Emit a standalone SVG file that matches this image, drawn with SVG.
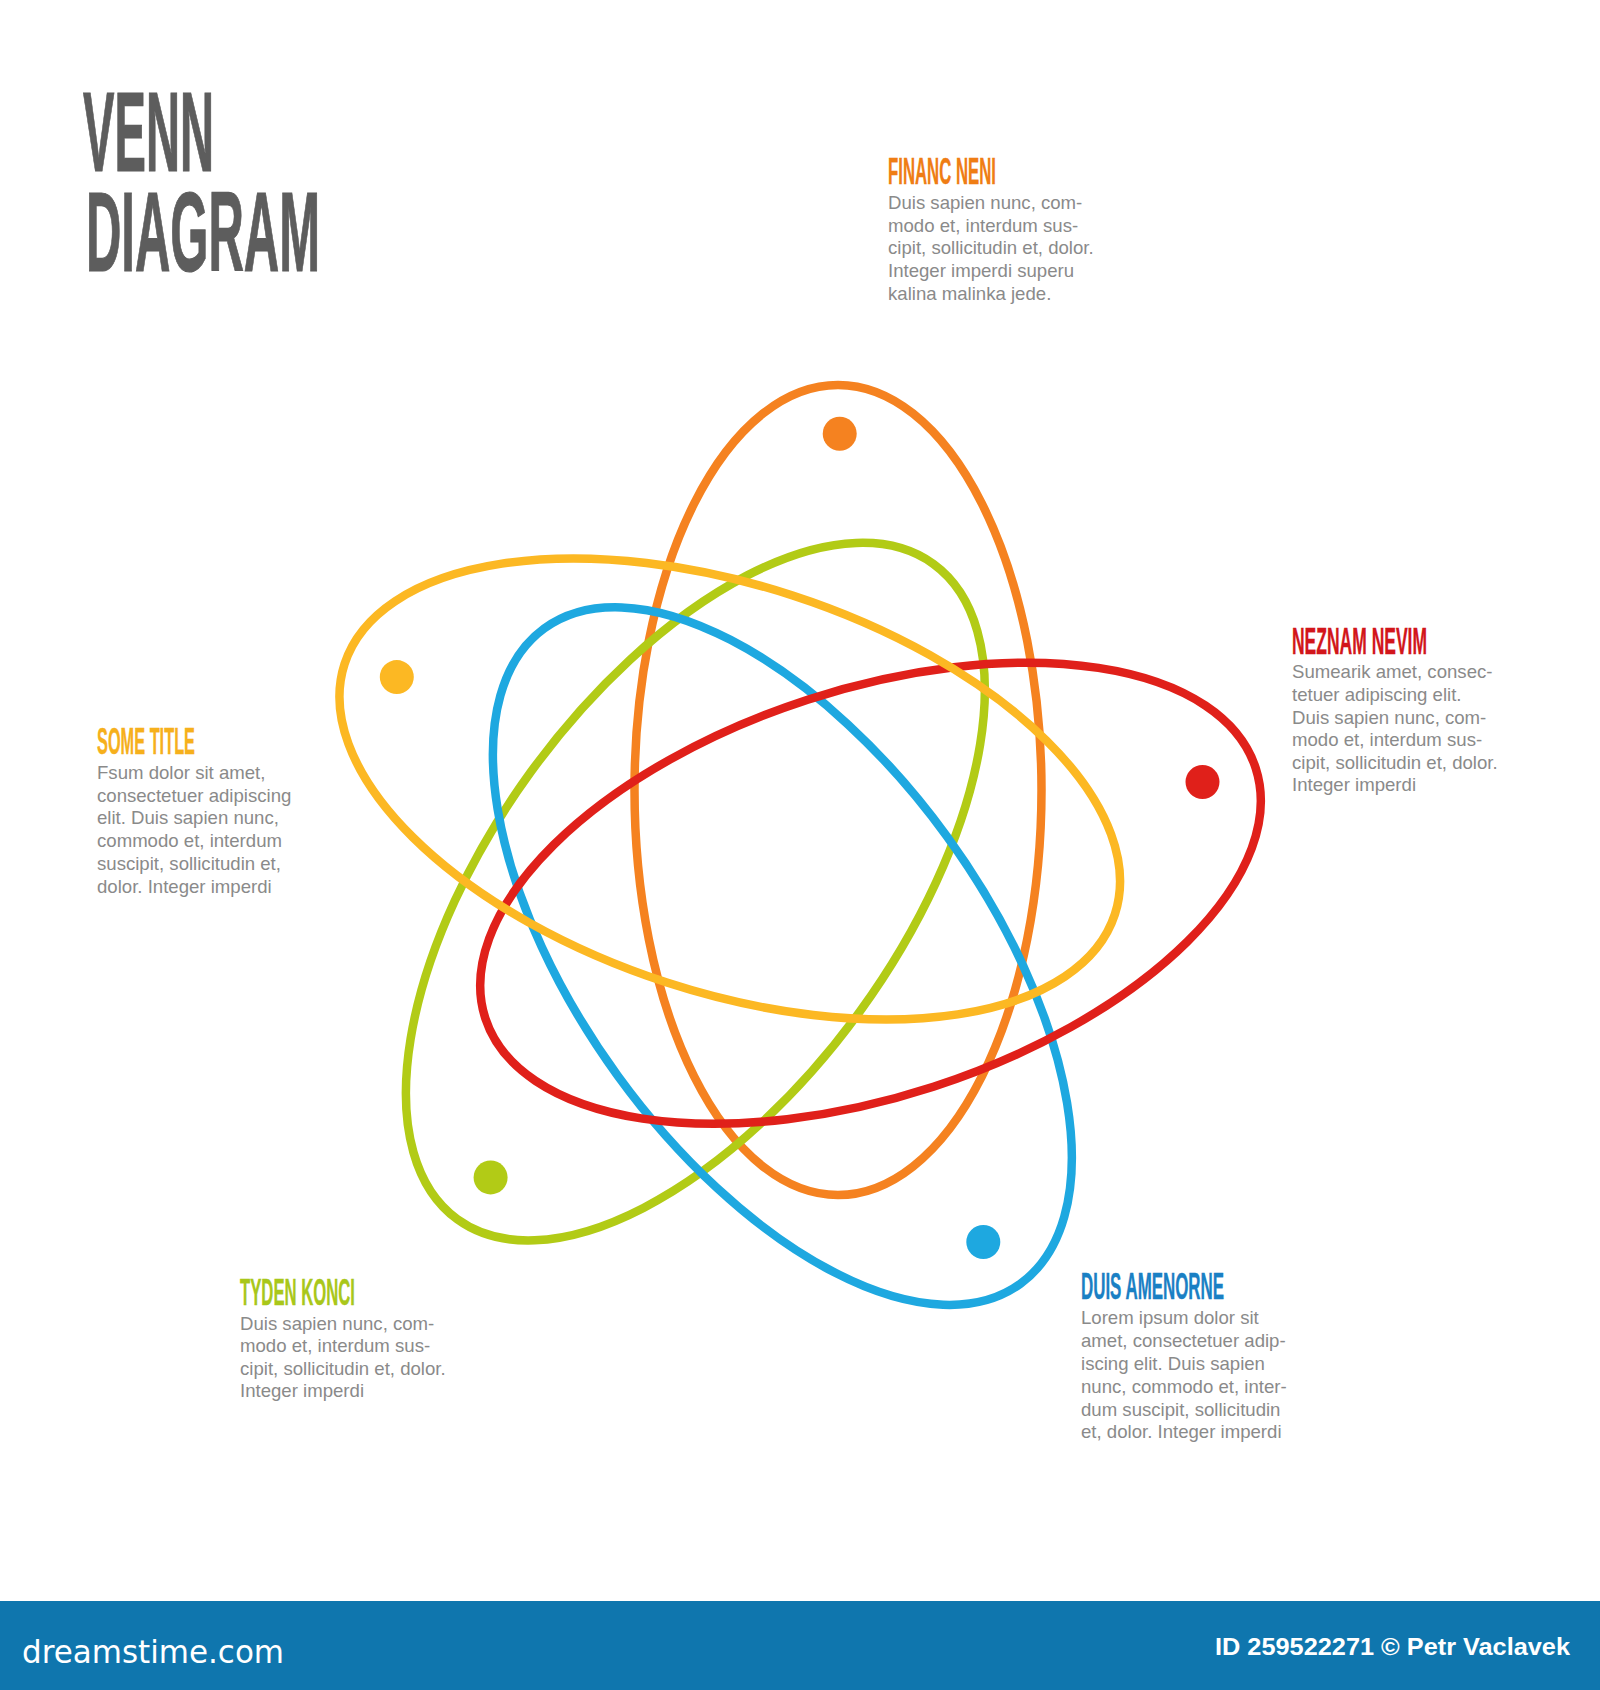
<svg xmlns="http://www.w3.org/2000/svg" width="1600" height="1690" viewBox="0 0 1600 1690">
<style>
.ring{fill:none;stroke-width:8.5}
.title{font-family:"Liberation Sans",Arial,sans-serif;font-weight:bold;fill:#5d5d5d;stroke:#5d5d5d;stroke-width:1.2;font-size:113px}
.head{font-family:"Liberation Sans",Arial,sans-serif;font-weight:bold;font-size:37px;stroke-width:0.4}
.body{font-family:"Liberation Sans",Arial,sans-serif;font-size:18.6px;fill:#8a8a8a}
.foot{font-family:"DejaVu Sans",sans-serif;fill:#ffffff}
</style>
<rect x="0" y="0" width="1600" height="1690" fill="#ffffff"/>

<g id="title">
<text class="title" x="83" y="170.5" textLength="131" lengthAdjust="spacingAndGlyphs">VENN</text>
<text class="title" x="86" y="270.5" textLength="234" lengthAdjust="spacingAndGlyphs">DIAGRAM</text>
</g>

<g id="connectors"></g>

<g id="set-orange">
<ellipse class="ring" cx="838" cy="790" rx="203.5" ry="405" stroke="#f58220"/>
<circle cx="839.7" cy="433.7" r="17" fill="#f58220"/>
</g>
<g id="set-green">
<ellipse class="ring" cx="838" cy="790" rx="203.5" ry="405" stroke="#b2cb16" transform="rotate(216 783.2 864)"/>
<circle cx="490.6" cy="1177.4" r="17" fill="#b2cb16"/>
</g>
<g id="set-blue">
<ellipse class="ring" cx="838" cy="790" rx="203.5" ry="405" stroke="#1ea8e0" transform="rotate(144 783.2 864)"/>
<circle cx="983.3" cy="1242" r="17" fill="#1ea8e0"/>
</g>
<g id="set-red">
<ellipse class="ring" cx="838" cy="790" rx="203.5" ry="405" stroke="#e0201a" transform="rotate(72 783.2 864)"/>
<circle cx="1202.5" cy="782" r="17" fill="#e0201a"/>
</g>
<g id="set-yellow">
<ellipse class="ring" cx="838" cy="790" rx="203.5" ry="405" stroke="#fcb823" transform="rotate(288 783.2 864)"/>
<circle cx="396.8" cy="677.1" r="17" fill="#fcb823"/>
</g>

<g id="label-orange">
<text class="head" x="888" y="184" fill="#ef7d14" stroke="#ef7d14" textLength="108" lengthAdjust="spacingAndGlyphs">FINANC NENI</text>
<text class="body">
<tspan x="888" y="209">Duis sapien nunc, com-</tspan>
<tspan x="888" y="231.7">modo et, interdum sus-</tspan>
<tspan x="888" y="254.4">cipit, sollicitudin et, dolor.</tspan>
<tspan x="888" y="277.1">Integer imperdi superu</tspan>
<tspan x="888" y="299.8">kalina malinka jede.</tspan>
</text>
</g>

<g id="label-red">
<text class="head" x="1292" y="654" fill="#d2161b" stroke="#d2161b" textLength="135" lengthAdjust="spacingAndGlyphs">NEZNAM NEVIM</text>
<text class="body">
<tspan x="1292" y="678.3">Sumearik amet, consec-</tspan>
<tspan x="1292" y="700.9">tetuer adipiscing elit.</tspan>
<tspan x="1292" y="723.5">Duis sapien nunc, com-</tspan>
<tspan x="1292" y="746.1">modo et, interdum sus-</tspan>
<tspan x="1292" y="768.7">cipit, sollicitudin et, dolor.</tspan>
<tspan x="1292" y="791.3">Integer imperdi</tspan>
</text>
</g>

<g id="label-yellow">
<text class="head" x="97" y="754" fill="#f6b01c" stroke="#f6b01c" textLength="98" lengthAdjust="spacingAndGlyphs">SOME TITLE</text>
<text class="body">
<tspan x="97" y="779">Fsum dolor sit amet,</tspan>
<tspan x="97" y="801.7">consectetuer adipiscing</tspan>
<tspan x="97" y="824.4">elit. Duis sapien nunc,</tspan>
<tspan x="97" y="847.1">commodo et, interdum</tspan>
<tspan x="97" y="869.8">suscipit, sollicitudin et,</tspan>
<tspan x="97" y="892.5">dolor. Integer imperdi</tspan>
</text>
</g>

<g id="label-green">
<text class="head" x="240" y="1305" fill="#a9c71a" stroke="#a9c71a" textLength="115" lengthAdjust="spacingAndGlyphs">TYDEN KONCI</text>
<text class="body">
<tspan x="240" y="1329.5">Duis sapien nunc, com-</tspan>
<tspan x="240" y="1352.1">modo et, interdum sus-</tspan>
<tspan x="240" y="1374.7">cipit, sollicitudin et, dolor.</tspan>
<tspan x="240" y="1397.3">Integer imperdi</tspan>
</text>
</g>

<g id="label-blue">
<text class="head" x="1081" y="1299" fill="#1a80c4" stroke="#1a80c4" textLength="143" lengthAdjust="spacingAndGlyphs">DUIS AMENORNE</text>
<text class="body">
<tspan x="1081" y="1324.3">Lorem ipsum dolor sit</tspan>
<tspan x="1081" y="1347.1">amet, consectetuer adip-</tspan>
<tspan x="1081" y="1369.9">iscing elit. Duis sapien</tspan>
<tspan x="1081" y="1392.7">nunc, commodo et, inter-</tspan>
<tspan x="1081" y="1415.5">dum suscipit, sollicitudin</tspan>
<tspan x="1081" y="1438.3">et, dolor. Integer imperdi</tspan>
</text>
</g>

<g id="footer">
<rect x="0" y="1601" width="1600" height="89" fill="#0f76ae"/>
<text class="foot" x="22" y="1663" font-size="32" textLength="262" lengthAdjust="spacingAndGlyphs">dreamstime.com</text>
<text x="1215" y="1655" font-family="Liberation Sans, Arial, sans-serif" font-weight="bold" font-size="24" fill="#ffffff" textLength="355" lengthAdjust="spacingAndGlyphs">ID 259522271 © Petr Vaclavek</text>
</g>
</svg>
